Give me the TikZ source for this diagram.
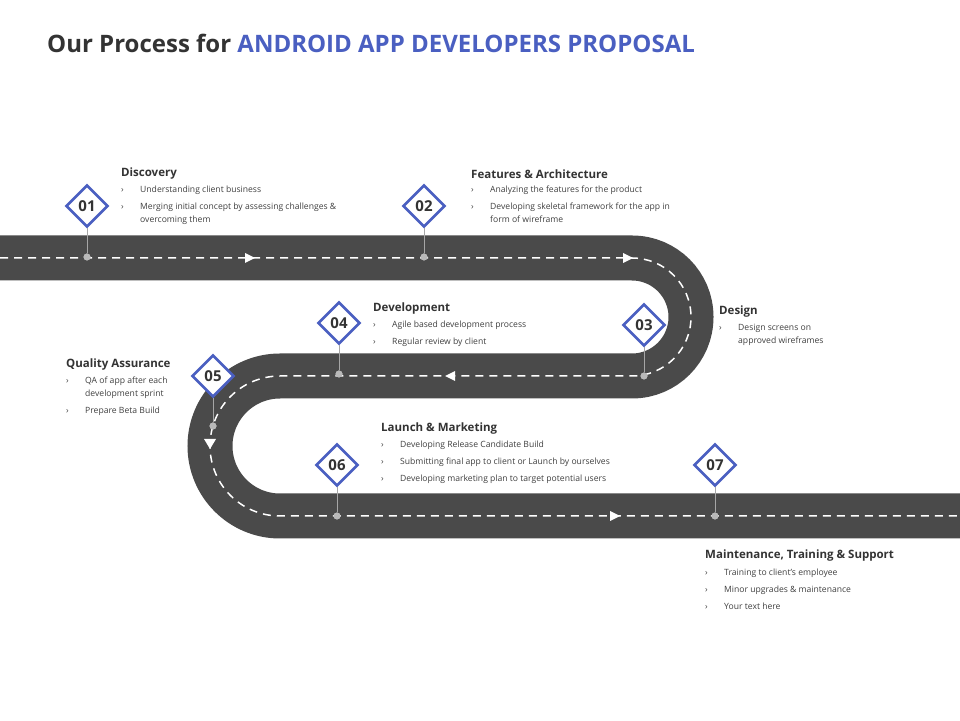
\documentclass[tikz,border=0pt]{standalone}
\usepackage{fontspec}
\setmainfont{Open Sans}
\usetikzlibrary{shapes.geometric}
\definecolor{road}{HTML}{4A4A4A}
\definecolor{blu}{HTML}{4A5FC1}
\definecolor{txt}{HTML}{333333}
\definecolor{btxt}{HTML}{404040}
\begin{document}
\begin{tikzpicture}[x=1pt,y=1pt,
 mk/.style={diamond,draw=blu,line width=2.6pt,fill=white,minimum width=42pt,minimum height=42pt,inner sep=0pt,font=\fontsize{15}{15}\selectfont\bfseries,text=txt},
 stem/.style={draw=gray!70,line width=0.8pt},
 dot/.style={circle,fill=gray!55,inner sep=0pt,minimum size=7pt},
 hd/.style={anchor=west,font=\fontsize{11.5}{13}\selectfont\bfseries,text=txt,inner sep=0pt},
 bl/.style={anchor=north west,font=\fontsize{8.6}{13}\selectfont,text=btxt,inner sep=0pt,align=left},
 arr/.style={fill=white,draw=none}]
\useasboundingbox (0,0) rectangle (960,720);
\fill[white] (0,0) rectangle (960,720);
\node[anchor=west,inner sep=0pt,font=\fontsize{24}{28}\selectfont\bfseries] (title) at (47,677) {\textcolor{txt}{Our Process for} \textcolor{blu}{ANDROID APP DEVELOPERS PROPOSAL}};
% road
\draw[road,line width=45pt] (0,462) -- (632,462) arc(90:-90:59) -- (280,344) arc(90:270:70) -- (960,204);
\draw[white,line width=1.5pt,dash pattern=on 8pt off 6pt] (0,462) -- (632,462) arc(90:-90:59) -- (280,344) arc(90:270:70) -- (960,204);
% arrows
\fill[arr] (255,462) -- (245,467) -- (245,457) -- cycle;
\fill[arr] (633,462) -- (623,467) -- (623,457) -- cycle;
\fill[arr] (445,344) -- (455,349) -- (455,339) -- cycle;
\fill[arr] (210,271) -- (204,281) -- (216,281) -- cycle;
\fill[arr] (620,204) -- (610,209) -- (610,199) -- cycle;
% markers
\foreach \n/\x/\y/\dy in {01/87/514/463,02/424/514/463,03/644/395/344,04/339/397/346,05/213/344/294,06/337/255/204,07/715/255/204}{
  \node[dot] (d\n) at (\x,\dy) {};
  \node[mk] (m\n) at (\x,\y) {\n};
  \draw[stem] (m\n.south) -- (d\n);
  \node[dot] at (\x,\dy) {};
}
% texts
\newcommand\bul[1]{\makebox[19pt][l]{›}#1}
\node[hd] (h1) at (121,546) {Discovery};
\node[bl] (b1) at (121,534) {\bul{Understanding client business}\\[4pt]\bul{Merging initial concept by assessing challenges \&}\\\hspace*{19pt}overcoming them};
\node[hd] (h2) at (471,546) {Features \& Architecture};
\node[bl] (b2) at (471,534) {\bul{Analyzing the features for the product}\\[4pt]\bul{Developing skeletal framework for the app in}\\\hspace*{19pt}form of wireframe};
\node[hd] (h3) at (719,408) {Design};
\node[bl] (b3) at (719,396) {\bul{Design screens on}\\\hspace*{19pt}approved wireframes};
\node[hd] (h4) at (373,411) {Development};
\node[bl] (b4) at (373,399) {\bul{Agile based development process}\\[4pt]\bul{Regular review by client}};
\node[hd] (h5) at (66,355) {Quality Assurance};
\node[bl] (b5) at (66,343) {\bul{QA of app after each}\\\hspace*{19pt}development sprint\\[4pt]\bul{Prepare Beta Build}};
\node[hd] (h6) at (381,291) {Launch \& Marketing};
\node[bl] (b6) at (381,279) {\bul{Developing Release Candidate Build}\\[4pt]\bul{Submitting final app to client or Launch by ourselves}\\[4pt]\bul{Developing marketing plan to target potential users}};
\node[hd] (h7) at (705,164) {Maintenance, Training \& Support};
\node[bl] (b7) at (705,151) {\bul{Training to client's employee}\\[4pt]\bul{Minor upgrades \& maintenance}\\[4pt]\bul{Your text here}};
\end{tikzpicture}
\end{document}
